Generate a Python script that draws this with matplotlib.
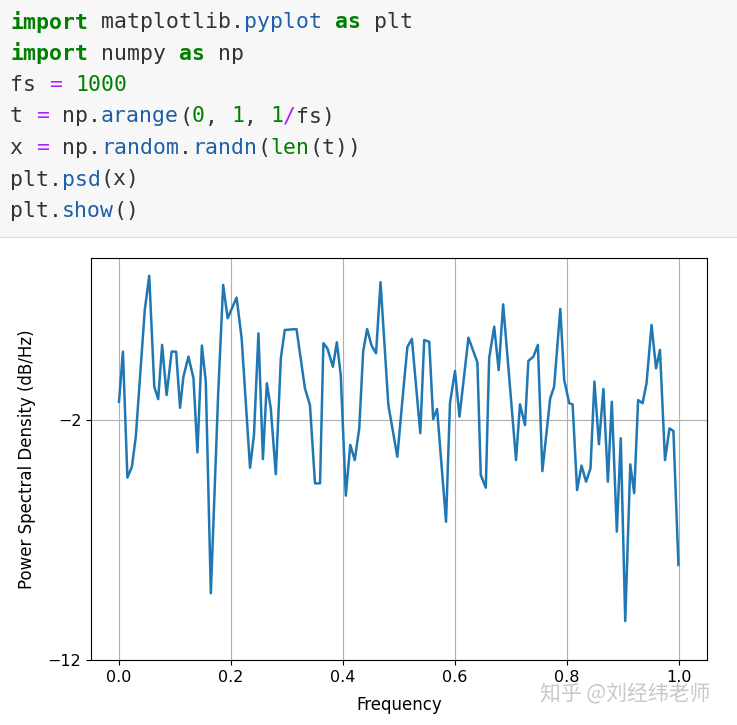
import matplotlib.pyplot as plt

# vertices of the PSD curve (normalized frequency, dB/Hz)
freq = [0.000, 0.007, 0.015, 0.023, 0.030, 0.046, 0.054, 0.063, 0.070, 0.077,
        0.085, 0.094, 0.102, 0.109, 0.115, 0.124, 0.133, 0.140, 0.148, 0.155,
        0.164, 0.177, 0.186, 0.194, 0.210, 0.219, 0.234, 0.241, 0.249, 0.257,
        0.264, 0.271, 0.280, 0.289, 0.296, 0.317, 0.332, 0.341, 0.350, 0.359,
        0.365, 0.372, 0.382, 0.389, 0.396, 0.405, 0.413, 0.421, 0.429, 0.436,
        0.443, 0.451, 0.459, 0.467, 0.481, 0.497, 0.508, 0.515, 0.523, 0.538,
        0.545, 0.554, 0.561, 0.568, 0.584, 0.591, 0.600, 0.608, 0.624, 0.640,
        0.646, 0.655, 0.661, 0.670, 0.678, 0.686, 0.709, 0.716, 0.725, 0.731,
        0.740, 0.748, 0.756, 0.770, 0.777, 0.788, 0.795, 0.804, 0.810, 0.818,
        0.826, 0.834, 0.842, 0.849, 0.857, 0.865, 0.873, 0.880, 0.889, 0.896,
        0.904, 0.913, 0.920, 0.927, 0.935, 0.942, 0.951, 0.959, 0.966, 0.975,
        0.983, 0.990, 0.999]
psd_db = [-1.24, 0.85, -4.40, -3.95, -2.70, 2.58, 4.01, -0.61, -1.13, 1.13,
          -0.96, 0.85, 0.85, -1.49, -0.20, 0.64, -0.26, -3.35, 1.10, -0.40,
          -9.22, -0.96, 3.63, 2.24, 3.10, 1.40, -3.99, -2.63, 1.61, -3.63,
          -0.47, -1.51, -4.26, 0.57, 1.75, 1.79, -0.68, -1.38, -4.64, -4.64,
          1.20, 0.99, 0.22, 1.24, -0.13, -5.15, -3.04, -3.67, -2.35, 0.85,
          1.79, 1.10, 0.78, 3.74, -1.38, -3.53, -0.68, 1.05, 1.38, -2.55,
          1.33, 1.26, -1.96, -1.54, -6.24, -1.30, 0.04, -1.86, 1.43, 0.40,
          -4.29, -4.82, 0.57, 1.89, 0.08, 2.82, -3.67, -1.35, -2.21, 0.46,
          0.64, 1.13, -4.13, -1.10, -0.61, 2.63, -0.33, -1.30, -1.35, -4.92,
          -3.90, -4.57, -4.01, -0.40, -3.01, -0.71, -4.57, -1.24, -6.65, -2.76,
          -10.38, -3.85, -5.05, -1.17, -1.30, -0.47, 1.96, 0.15, 0.92, -3.67,
          -2.35, -2.46, -8.04]

x_ticks = [0.0, 0.2, 0.4, 0.6, 0.8, 1.0]
y_ticks = [-2, -12]

# code cell: list of (text, colour, bold) tokens per line
GREEN = '#008000'
PURPLE = '#aa22ff'
BLUE = '#1f5fa8'
BLACK = '#333333'
code_lines = [
    [('import', GREEN, True), (' matplotlib.', BLACK, False), ('pyplot', BLUE, False),
     (' ', BLACK, False), ('as', GREEN, True), (' plt', BLACK, False)],
    [('import', GREEN, True), (' numpy ', BLACK, False), ('as', GREEN, True), (' np', BLACK, False)],
    [('fs ', BLACK, False), ('=', PURPLE, False), (' ', BLACK, False), ('1000', GREEN, False)],
    [('t ', BLACK, False), ('=', PURPLE, False), (' np.', BLACK, False), ('arange', BLUE, False),
     ('(', BLACK, False), ('0', GREEN, False), (', ', BLACK, False), ('1', GREEN, False),
     (', ', BLACK, False), ('1', GREEN, False), ('/', PURPLE, False), ('fs)', BLACK, False)],
    [('x ', BLACK, False), ('=', PURPLE, False), (' np.', BLACK, False), ('random', BLUE, False),
     ('.', BLACK, False), ('randn', BLUE, False), ('(', BLACK, False), ('len', GREEN, False),
     ('(t))', BLACK, False)],
    [('plt.', BLACK, False), ('psd', BLUE, False), ('(x)', BLACK, False)],
    [('plt.', BLACK, False), ('show', BLUE, False), ('()', BLACK, False)],
]

W, H = 737, 725
fig = plt.figure(figsize=(W / 100, H / 100), dpi=100)

# grey code cell background
bg = fig.add_axes([0, 1 - 237 / H, 1, 237 / H])
bg.set_facecolor('#f7f7f7')
bg.set_xticks([])
bg.set_yticks([])
for s in ['top', 'left', 'right']:
    bg.spines[s].set_visible(False)
bg.spines['bottom'].set_color('#dddddd')

char_w = 13.0
for i, tokens in enumerate(code_lines):
    y = 22 + i * 31.5
    col = 0
    for txt, color, bold in tokens:
        fig.text((10 + col * char_w) / W, 1 - y / H, txt, color=color,
                 fontweight='bold' if bold else 'normal',
                 family='DejaVu Sans Mono', fontsize=15.5, va='center', ha='left')
        col += len(txt)

ax = fig.add_axes([91 / W, 65 / H, 616 / W, 402 / H])
ax.plot(freq, psd_db, color='#1f77b4', lw=1.8)
ax.set_xlim(-0.05, 1.05)
ax.set_ylim(-12, 4.75)
ax.set_xticks(x_ticks)
ax.set_yticks(y_ticks)
ax.set_yticklabels(['\u22122', '\u221212'])
ax.grid(True, color='#b0b0b0', lw=0.8)
ax.tick_params(labelsize=11.5)
ax.set_xlabel('Frequency', fontsize=12, labelpad=8)
ax.set_ylabel('Power Spectral Density (dB/Hz)', fontsize=12, labelpad=8)

# watermark
fig.text(540 / W, 1 - 694 / H, '知乎 @刘经纬老师', family=['Noto Sans CJK SC', 'DejaVu Sans'],
         fontsize=15, color='#c8c8c8', va='center', ha='left')

fig.savefig('out.png', dpi=100)
